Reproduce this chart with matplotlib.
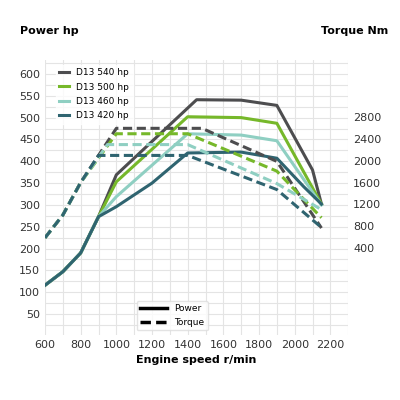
import matplotlib.pyplot as plt
from matplotlib.lines import Line2D

names = ["D13 540 hp", "D13 500 hp", "D13 460 hp", "D13 420 hp"]
colors = ["#4d4d4f", "#76b82a", "#8fcfc2", "#2f6470"]

power_rpm = [
    [600, 700, 800, 900, 1000, 1450, 1700, 1900, 2100, 2150],
    [600, 700, 800, 900, 1000, 1400, 1700, 1900, 2150],
    [600, 700, 800, 900, 1000, 1400, 1700, 1900, 2150],
    [600, 700, 800, 900, 1000, 1200, 1400, 1700, 1900, 2050, 2150],
]
power_hp = [
    [116, 147, 190, 273, 369, 541, 540, 528, 380, 302],
    [116, 147, 190, 273, 353, 502, 500, 487, 302],
    [116, 147, 190, 273, 319, 463, 460, 447, 300],
    [116, 147, 190, 273, 296, 350, 419, 421, 407, 342, 302],
]
torque_rpm = [
    [600, 700, 800, 1000, 1480, 1900, 2150],
    [600, 700, 800, 1000, 1400, 1900, 2150],
    [600, 700, 800, 950, 1400, 1900, 2150],
    [600, 700, 800, 900, 1400, 1900, 2150],
]
torque_nm = [
    [580, 1000, 1600, 2600, 2600, 1990, 760],
    [580, 1000, 1600, 2500, 2500, 1810, 950],
    [580, 1000, 1600, 2300, 2300, 1580, 1100],
    [580, 1000, 1600, 2100, 2100, 1470, 770],
]

fig = plt.figure(figsize=(4, 4), dpi=100)
ax = fig.add_axes([0.1125, 0.1625, 0.758, 0.6875])
ax2 = ax.twinx()

for rpm, hp, c, n in zip(power_rpm, power_hp, colors, names):
    ax.plot(rpm, hp, color=c, lw=2.2, label=n, zorder=3)
for rpm, nm, c in zip(torque_rpm, torque_nm, colors):
    ax2.plot(rpm, nm, color=c, lw=2.2, ls=(0, (3, 1.5)))

ax.set_xlim(600, 2300)
ax.set_ylim(2, 632)
ax2.set_ylim(-1214, 3861)
ax.set_xticks(range(600, 2201, 200))
ax.set_xticks(range(600, 2301, 100), minor=True)
ax.set_yticks(range(50, 601, 50))
ax.set_yticks(range(25, 626, 25), minor=True)
ax2.set_yticks(range(400, 2801, 400))
ax.grid(which="both", color="#e4e4e4", lw=0.8)
ax.set_axisbelow(True)
for a in (ax, ax2):
    for s in a.spines.values():
        s.set_visible(False)
    a.tick_params(length=0, labelsize=8, colors="#333333")
ax.tick_params(which="minor", length=0)
ax.set_xlabel("Engine speed r/min", fontsize=8, fontweight="bold")

fig.text(0.05, 0.915, "Power hp", fontsize=8, fontweight="bold")
fig.text(0.97, 0.915, "Torque Nm", fontsize=8, fontweight="bold", ha="right")

leg1 = ax.legend(loc="upper left", bbox_to_anchor=(0.02, 1.0), fontsize=6.5,
                 frameon=True, facecolor="white", edgecolor="white",
                 handlelength=1.1, labelspacing=0.6)
ax.add_artist(leg1)
style = [Line2D([], [], color="black", lw=2.5),
         Line2D([], [], color="black", lw=2.5, ls=(0, (3, 1.5)))]
ax.legend(style, ["Power", "Torque"], loc="lower center",
          bbox_to_anchor=(0.42, 0.0), fontsize=6.5, frameon=True,
          facecolor="white", edgecolor="#dddddd", handlelength=3)

fig.savefig("out.png", dpi=100)
